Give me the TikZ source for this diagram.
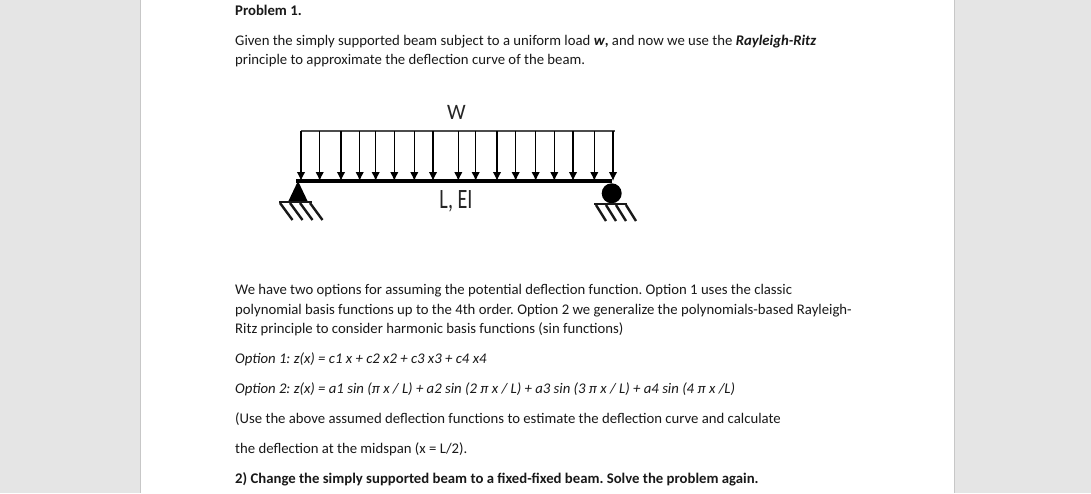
\documentclass[tikz,border=0pt]{standalone}
\usepackage{fontspec}
\setmainfont{Carlito}
\usetikzlibrary{arrows.meta}
\tikzset{
  para/.style={anchor=base west,inner sep=0pt,font=\fontsize{14.74}{16}\selectfont\frenchspacing,text=black!90},
  loadarrow/.style={draw=black,line width=1.3pt,-{Latex[length=9pt,width=8.5pt]}},
  beamline/.style={draw=black,line width=3.2pt},
  loadline/.style={draw=black!70,line width=1.8pt},
  groundline/.style={draw=black!90,line width=2.4pt},
  hatchline/.style={draw=black!90,line width=2.4pt},
  lbl/.style={inner sep=0pt,text=black!85}
}
\newcommand{\mypi}{π}
\begin{document}
\begin{tikzpicture}[x=1pt,y=-1pt]
\useasboundingbox (0,0) rectangle (1091,493);
\fill[black!10] (0,0) rectangle (1091,493);
\fill[white] (140,0) rectangle (954,493);
\draw[black!22,line width=0.7pt] (140,0) -- (140,493) (954,0) -- (954,493);
% text
\node[para] (t1) at (235,15) {\textbf{Problem 1.}};
\node[para] (t2) at (235,45) {Given the simply supported beam subject to a uniform load \textbf{\textit{w},} and now we use the \textbf{\textit{Rayleigh-Ritz}}};
\node[para] (t3) at (235,64) {principle to approximate the deflection curve of the beam.};
\node[para] (t4) at (235,294) {We have two options for assuming the potential deflection function. Option 1 uses the classic};
\node[para] (t5) at (235,314) {polynomial basis functions up to the 4th order. Option 2 we generalize the polynomials-based Rayleigh-};
\node[para] (t6) at (235,333) {Ritz principle to consider harmonic basis functions (sin functions)};
\node[para] (t7) at (235,363) {\textit{Option 1: z(x) = c1 x + c2 x2 + c3 x3 + c4 x4}};
\node[para] (t8) at (235,393) {\textit{Option 2: z(x) = a1 sin (\mypi\ x / L) + a2 sin (2 \mypi\ x / L) + a3 sin (3 \mypi\ x / L) + a4 sin (4 \mypi\ x /L)}};
\node[para] (t9) at (235,423) {(Use the above assumed deflection functions to estimate the deflection curve and calculate};
\node[para] (t10) at (235,453) {the deflection at the midspan (x = L/2).};
\node[para] (t11) at (235,483) {\textbf{2) Change the simply supported beam to a fixed-fixed beam. Solve the problem again.}};
% beam
\coordinate (loadL) at (300.5,131.3);
\coordinate (loadR) at (615,131.3);
\coordinate (beamL) at (296,181);
\coordinate (beamR) at (612,181);
\draw[loadline] (loadL) -- (loadR);
\foreach \x in {301,319.7,341,359.7,375.7,394.3,414.3,433,458.3,475.7,497,515.7,535.7,554.3,573,594.3,613}{
  \coordinate (aS) at (\x,131.3);
  \coordinate (aE) at (\x,181);
  \draw[loadarrow] (aS) -- (aE);
}
\draw[beamline] (beamL) -- (beamR);
% pin
\fill[black] (298,181) -- (308,202) -- (288,202) -- cycle;
\draw[groundline] (279,202) -- (312,202);
\foreach \x in {280,290,300,310}{
  \draw[hatchline] (\x,203) -- (\x+12.5,220);
}
% roller
\node[circle,fill=black,minimum size=20pt,inner sep=0pt] (roller) at (611.7,193.3) {};
\draw[groundline] (594,204) -- (627,204);
\foreach \x in {596,606,616,626}{
  \draw[hatchline] (\x,205) -- (\x+10,221);
}
% labels
\node[lbl,font=\fontsize{22}{24}\selectfont,xscale=0.95] (w) at (456.5,112.5) {W};
\node[lbl,font=\fontsize{28}{30}\selectfont,xscale=0.72] (lei) at (456,201) {L, EI};
\end{tikzpicture}
\end{document}
